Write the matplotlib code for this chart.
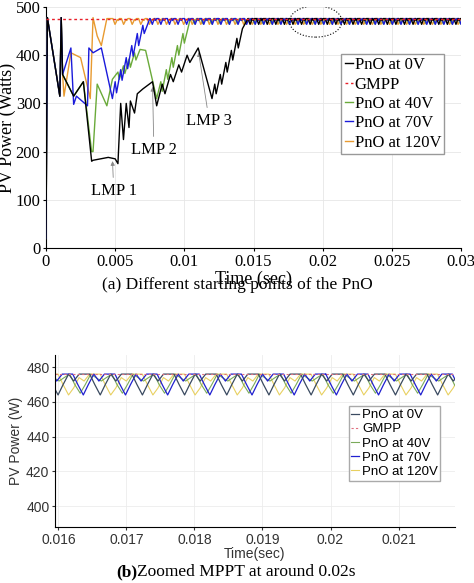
import numpy as np
import matplotlib
matplotlib.use("Agg")
import matplotlib.pyplot as plt
from matplotlib.patches import Ellipse

# ── transient breakpoints (time s, power W) ──
gmpp = 476.0
start_t = [0.0, 0.0001, 0.0010, 0.0011, 0.0012]
start_p = [20, 478, 315, 478, 360]

blue_t = [0.0018, 0.0020, 0.0022, 0.0030, 0.0031, 0.0034, 0.0040, 0.0048,
          0.0050, 0.0051, 0.0054, 0.0055, 0.0058, 0.0059, 0.0062, 0.0063,
          0.0066, 0.0067, 0.0070, 0.0071, 0.0075]
blue_p = [415, 298, 315, 295, 415, 405, 415, 310,
          345, 322, 370, 348, 395, 372, 420, 398,
          445, 420, 462, 445, 476]

green_t = [0.0020, 0.0027, 0.0033, 0.0034, 0.0037, 0.0044, 0.0048, 0.0052,
           0.0053, 0.0056, 0.0057, 0.0060, 0.0061, 0.0064, 0.0065, 0.0068,
           0.0072, 0.0080, 0.0083, 0.0084, 0.0087, 0.0088, 0.0091, 0.0092,
           0.0095, 0.0096, 0.0099, 0.0100, 0.0104]
green_p = [315, 345, 200, 200, 340, 295, 350, 365,
           350, 378, 362, 392, 375, 405, 390, 412,
           410, 310, 345, 325, 370, 350, 395, 375,
           420, 400, 445, 425, 472]

black_t = [0.0020, 0.0027, 0.0033, 0.0034, 0.0045, 0.0050, 0.0052, 0.0054,
           0.0056, 0.0058, 0.0060, 0.0061, 0.0064, 0.0066, 0.0070, 0.0077,
           0.0080, 0.0084, 0.0086, 0.0090, 0.0092, 0.0096, 0.0098, 0.0102,
           0.0104, 0.0110, 0.0120, 0.0122, 0.0123, 0.0126, 0.0127, 0.0130,
           0.0131, 0.0134, 0.0135, 0.0138, 0.0139, 0.0142, 0.0146]
black_p = [315, 345, 180, 182, 188, 185, 175, 300,
           225, 300, 250, 305, 280, 320, 330, 345,
           295, 340, 320, 360, 345, 380, 365, 400,
           385, 415, 310, 340, 320, 360, 340, 385,
           365, 410, 390, 435, 415, 455, 476]

orange_t = [0.0013, 0.0018, 0.0025, 0.0032, 0.0034, 0.0037, 0.0040, 0.0044]
orange_p = [315, 405, 395, 310, 478, 440, 420, 476]

# ── one steady-state ripple period (fraction of period, power W) ──
ripple_period = 0.00062
ripple_f = [0.0, 0.12, 0.25, 0.37, 0.5, 0.62, 0.75, 0.87, 1.0]
big_p = [476, 470, 464, 470, 476, 472, 476, 476, 476]
green_rp = [476, 470, 465, 470, 476, 474, 472, 474, 476]
yellow_rp = [476, 470, 464, 468, 474, 472, 476, 476, 476]

legend_names = ["PnO at 0V", "GMPP", "PnO at 40V", "PnO at 70V", "PnO at 120V"]
colors = {"black": "#000000", "gmpp": "#e8202a", "green": "#6aaa3a",
          "blue": "#1a1adb", "orange": "#e89a30"}


def steady(t0, phase, pattern, t_end=0.031):
    ts, ps = [], []
    k = 0
    while True:
        base = t0 + phase * ripple_period + k * ripple_period
        if base > t_end:
            break
        for f, p in zip(ripple_f, pattern):
            ts.append(base + f * ripple_period)
            ps.append(p)
        k += 1
    return ts, ps


def series(tr_t, tr_p, phase, pattern):
    t = start_t + tr_t
    p = start_p + tr_p
    st, sp = steady(tr_t[-1], phase, pattern)
    return np.array(t + st), np.array(p + sp)


bk = series(black_t, black_p, 0.0, big_p)
gr = series(green_t, green_p, 0.3, green_rp)
bl = series(blue_t, blue_p, 0.05, big_p)
orn = series(orange_t, orange_p, 0.7, yellow_rp)

fig = plt.figure(figsize=(4.74, 5.83), dpi=100)

# ── panel (a) ──
ax = fig.add_axes([46 / 474, 1 - 248 / 583, 415 / 474, 241 / 583])
serif = "Liberation Serif"
ax.plot(*orn, color=colors["orange"], lw=1.0, label=legend_names[4], zorder=3)
ax.plot(*gr, color=colors["green"], lw=1.0, label=legend_names[2], zorder=4)
ax.plot(*bl, color=colors["blue"], lw=1.0, label=legend_names[3], zorder=5)
ax.plot(*bk, color=colors["black"], lw=1.0, label=legend_names[0], zorder=6)
ax.axhline(gmpp, color=colors["gmpp"], ls=(0, (2, 2)), lw=1.0, label=legend_names[1], zorder=7)
ax.set_xlim(0, 0.03)
ax.set_ylim(0, 500)
ax.set_xticks([0, 0.005, 0.01, 0.015, 0.02, 0.025, 0.03])
ax.set_xticklabels(["0", "0.005", "0.01", "0.015", "0.02", "0.025", "0.03"])
ax.set_yticks(range(0, 501, 100))
ax.grid(True, color="#e6e6e6", lw=0.6)
for lab in ax.get_xticklabels() + ax.get_yticklabels():
    lab.set_fontfamily(serif)
    lab.set_fontsize(12)
ax.tick_params(length=2, pad=2)
ax.set_xlabel("Time (sec)", family=serif, fontsize=13, labelpad=1)
ax.set_ylabel("PV Power (Watts)", family=serif, fontsize=13, labelpad=0)
for s in ["top", "right"]:
    ax.spines[s].set_visible(False)
h, l = ax.get_legend_handles_labels()
order = [l.index(n) for n in legend_names]
ax.legend([h[i] for i in order], [l[i] for i in order], loc="upper right",
          bbox_to_anchor=(0.98, 0.84), prop={"family": serif, "size": 12},
          handlelength=0.5, handletextpad=0.1, borderpad=0.2, labelspacing=0.2,
          fancybox=False, edgecolor="#999999", framealpha=1)
arrow = dict(arrowstyle="-|>", color="#888888", lw=0.6, mutation_scale=6)
ax.annotate("LMP 1", xy=(0.0048, 186), xytext=(0.0049, 110), family=serif,
            fontsize=12, ha="center", arrowprops=arrow)
ax.annotate("LMP 2", xy=(0.0077, 340), xytext=(0.0078, 195), family=serif,
            fontsize=12, ha="center", arrowprops=arrow)
ax.annotate("LMP 3", xy=(0.0110, 412), xytext=(0.0118, 255), family=serif,
            fontsize=12, ha="center", arrowprops=arrow)
ax.add_patch(Ellipse((0.0195, 470), 0.0038, 65, fill=False, ls=":", lw=0.8, color="black", zorder=8))
fig.text(0.5, 1 - 285 / 583, "(a) Different starting points of the PnO", family=serif,
         fontsize=12.5, ha="center", va="center")

# ── panel (b) ──
bx = fig.add_axes([55 / 474, 1 - 527 / 583, 400 / 474, 172 / 583])
sans = "Liberation Sans"
bx.plot(*orn, color="#e8d060", lw=0.8, label=legend_names[4])
bx.plot(*gr, color="#7aaa5a", lw=0.8, label=legend_names[2])
bx.plot(*bl, color="#2020d0", lw=0.9, label=legend_names[3])
bx.plot(*bk, color="#3a4a60", lw=0.9, label=legend_names[0])
bx.axhline(gmpp, color="#e07080", ls=(0, (2, 2)), lw=0.8, label=legend_names[1])
bx.set_xlim(0.01595, 0.02183)
bx.set_ylim(388, 487)
bx.set_xticks([0.016, 0.017, 0.018, 0.019, 0.02, 0.021])
bx.set_xticklabels(["0.016", "0.017", "0.018", "0.019", "0.02", "0.021"])
bx.set_yticks([400, 420, 440, 460, 480])
bx.grid(True, color="#ececec", lw=0.6)
for lab in bx.get_xticklabels() + bx.get_yticklabels():
    lab.set_fontfamily(sans)
    lab.set_fontsize(10)
    lab.set_color("#333333")
bx.tick_params(length=2, pad=2, colors="#333333")
bx.set_xlabel("Time(sec)", family=sans, fontsize=10, color="#333333", labelpad=0)
bx.set_ylabel("PV Power (W)", family=sans, fontsize=10, color="#333333", labelpad=2)
for s in ["top", "right"]:
    bx.spines[s].set_visible(False)
h, l = bx.get_legend_handles_labels()
order = [l.index(n) for n in legend_names]
bx.legend([h[i] for i in order], [l[i] for i in order], loc="upper right",
          bbox_to_anchor=(0.98, 0.74), prop={"family": sans, "size": 9.5},
          handlelength=0.6, handletextpad=0.2, borderpad=0.2, labelspacing=0.15,
          fancybox=False, edgecolor="#aaaaaa", framealpha=1)
fig.text(0.29, 1 - 572 / 583, "(b)", family=serif, fontsize=12.5, weight="bold",
         ha="right", va="center")
fig.text(0.29, 1 - 572 / 583, "Zoomed MPPT at around 0.02s", family=serif,
         fontsize=12.5, ha="left", va="center")

fig.savefig("out.png", dpi=100)
